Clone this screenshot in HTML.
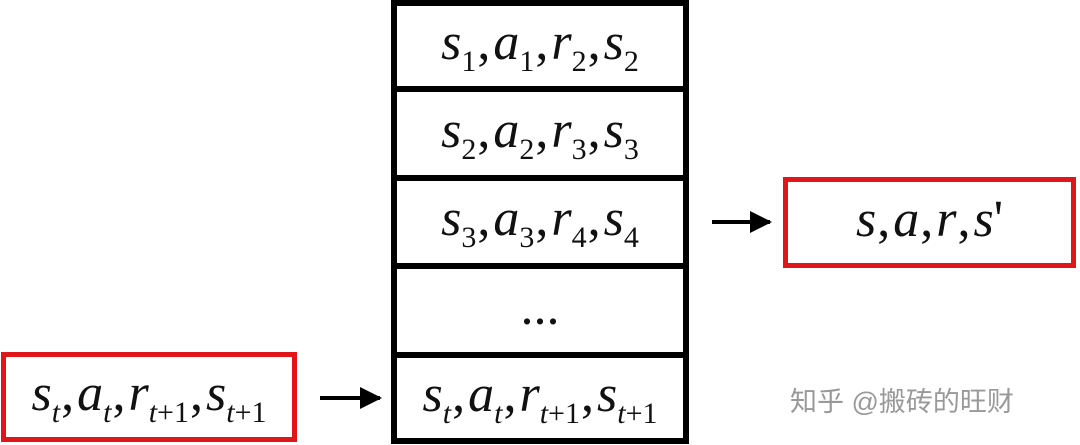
<!DOCTYPE html>
<html><head><meta charset="utf-8"><style>
body{margin:0;width:1080px;height:445px;background:#fff;position:relative;overflow:hidden;font-family:"Liberation Serif",serif}
.b{position:absolute;box-sizing:border-box;display:flex;align-items:center;justify-content:center;font-size:52px;font-style:italic;color:#111}
.b>span{display:inline-block;white-space:nowrap;line-height:52px;margin-top:-6px}
.k{border:6px solid #000}
.r{border:5px solid #e0161b}
sub{font-size:30px;font-style:normal;position:relative;top:12px;vertical-align:baseline;line-height:0}
sub i{font-style:italic}
.c{font-style:normal;margin:0 3px 0 1px}
.arr{position:absolute;height:4px;background:#000}
.arr:after{content:"";position:absolute;right:-2px;top:-9px;border-left:22px solid #000;border-top:11px solid transparent;border-bottom:11px solid transparent}
.wm{position:absolute;left:790px;top:380px;font-family:"Liberation Sans","Noto Sans CJK SC",sans-serif;font-size:27px;color:#999}
</style></head><body>
<div class="b k" style="left:391px;top:0;width:298px;height:92px"><span>s<sub>1</sub><span class="c">,</span>a<sub>1</sub><span class="c">,</span>r<sub>2</sub><span class="c">,</span>s<sub>2</sub></span></div>
<div class="b k" style="left:391px;top:86px;width:298px;height:95px"><span>s<sub>2</sub><span class="c">,</span>a<sub>2</sub><span class="c">,</span>r<sub>3</sub><span class="c">,</span>s<sub>3</sub></span></div>
<div class="b k" style="left:391px;top:175px;width:298px;height:94px"><span>s<sub>3</sub><span class="c">,</span>a<sub>3</sub><span class="c">,</span>r<sub>4</sub><span class="c">,</span>s<sub>4</sub></span></div>
<div class="b k" style="left:391px;top:263px;width:298px;height:95px;font-style:normal"><span>...</span></div>
<div class="b k" style="left:391px;top:352px;width:298px;height:92px"><span>s<sub><i>t</i></sub><span class="c">,</span>a<sub><i>t</i></sub><span class="c">,</span>r<sub><i>t</i>+1</sub><span class="c">,</span>s<sub><i>t</i>+1</sub></span></div>
<div class="b r" style="left:783px;top:177px;width:293px;height:91px"><span>s<span class="c">,</span>a<span class="c">,</span>r<span class="c">,</span>s<span style="font-style:normal">'</span></span></div>
<div class="b r" style="left:1px;top:352px;width:296px;height:90px"><span>s<sub><i>t</i></sub><span class="c">,</span>a<sub><i>t</i></sub><span class="c">,</span>r<sub><i>t</i>+1</sub><span class="c">,</span>s<sub><i>t</i>+1</sub></span></div>
<div class="arr" style="left:712px;top:220px;width:58px"></div>
<div class="arr" style="left:320px;top:396px;width:60px"></div>
<div class="wm">知乎 @搬砖的旺财</div>
</body></html>
